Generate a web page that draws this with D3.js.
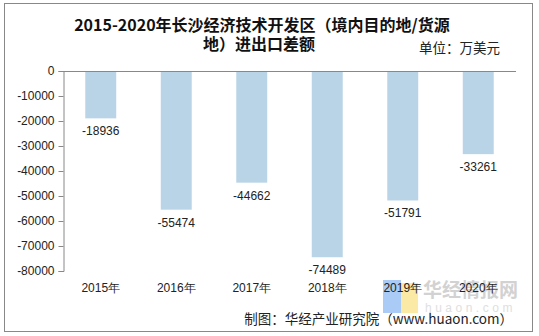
<!DOCTYPE html>
<html>
<head>
<meta charset="utf-8">
<script src="https://cdn.jsdelivr.net/npm/d3@7"></script>
<style>
body { margin: 0; background: #fff; }
svg { display: block; font-family: "Liberation Sans", Arial, sans-serif; }
</style>
</head>
<body>
<svg id="chart" width="539" height="336"></svg>
<script>
// data
var years = ["2015年", "2016年", "2017年", "2018年", "2019年", "2020年"]
var values = [-18936, -55474, -44662, -74489, -51791, -33261]
var yTicks = [0, -10000, -20000, -30000, -40000, -50000, -60000, -70000, -80000]

var svg = d3.select("#chart")

// outer frame
svg.append("rect")
    .attr("x", 4.5).attr("y", 3.5)
    .attr("width", 528).attr("height", 328)
    .attr("fill", "none")
    .attr("stroke", "#888")

var x = d3.scaleBand()
    .domain(years)
    .range([63, 516])
    .paddingInner(0.59)
    .paddingOuter(0.295)

var y = d3.scaleLinear()
    .domain([-80000, 0])
    .range([271, 71])

// bars
svg.selectAll("rect.bar")
    .data(values)
    .enter()
    .append("rect")
    .attr("class", "bar")
    .attr("x", function(d, i) { return x(years[i]) })
    .attr("y", y(0))
    .attr("width", x.bandwidth())
    .attr("height", function(d) { return y(d) - y(0) })
    .attr("fill", "#b9d4e7")

// value labels
svg.selectAll("text.val")
    .data(values)
    .enter()
    .append("text")
    .attr("class", "val")
    .attr("x", function(d, i) { return x(years[i]) + x.bandwidth() / 2 })
    .attr("y", function(d) { return y(d) + 17 })
    .attr("text-anchor", "middle")
    .attr("font-size", 12)
    .attr("fill", "#222")
    .text(function(d) { return d })

// y axis
var yAxis = d3.axisLeft(y)
    .tickValues(yTicks)
    .tickSize(5)
    .tickPadding(4)
    .tickFormat(function(d) { return d })

var gy = svg.append("g")
    .attr("transform", "translate(63.5,0)")
    .call(yAxis)
gy.select(".domain").attr("stroke", "#888")
gy.selectAll(".tick line").attr("stroke", "#888")
gy.selectAll(".tick text").attr("font-size", 12).attr("fill", "#222")
    .attr("font-family", "Liberation Sans, Arial, sans-serif")

// zero line (category axis)
svg.append("line")
    .attr("x1", 63).attr("x2", 516)
    .attr("y1", y(0) + 0.5).attr("y2", y(0) + 0.5)
    .attr("stroke", "#888")

// watermark (drawn under the category labels)
var wm = svg.append("g")
wm.append("rect").attr("x", 383).attr("y", 280).attr("width", 18).attr("height", 33).attr("fill", "#a9cbf5")
wm.append("rect").attr("x", 401).attr("y", 283).attr("width", 17).attr("height", 30).attr("fill", "#fbeaa6")
wm.append("text").attr("x", 423).attr("y", 297)
    .attr("font-family", "Noto Sans CJK SC").attr("font-weight", "bold")
    .attr("font-size", 19).attr("fill", "#d2d2d2").text("华经情报网")
wm.append("text").attr("x", 425).attr("y", 312)
    .attr("font-size", 12).attr("fill", "#e0e0e0").attr("letter-spacing", 3.5).text("huaon.com")

// category labels at bottom
svg.selectAll("text.cat")
    .data(years)
    .enter()
    .append("text")
    .attr("class", "cat")
    .attr("x", function(d) { return x(d) + x.bandwidth() / 2 })
    .attr("y", 292)
    .attr("text-anchor", "middle")
    .attr("font-size", 12)
    .attr("fill", "#222")
    .text(function(d) { return d })

// title
var title = svg.append("g")
    .attr("font-family", "Noto Sans CJK SC")
    .attr("font-weight", "bold")
    .attr("font-size", 16)
    .attr("fill", "#111")
    .attr("text-anchor", "middle")
title.append("text").attr("x", 262).attr("y", 31).text("2015-2020年长沙经济技术开发区（境内目的地/货源")
title.append("text").attr("x", 259).attr("y", 50).text("地）进出口差额")

svg.append("text")
    .attr("x", 500).attr("y", 53)
    .attr("text-anchor", "end")
    .attr("font-family", "Noto Sans CJK SC")
    .attr("font-size", 13.5)
    .attr("fill", "#222")
    .text("单位：万美元")

svg.append("text")
    .attr("x", 513).attr("y", 324)
    .attr("text-anchor", "end")
    .attr("font-family", "Noto Sans CJK SC")
    .attr("font-size", 13.5)
    .attr("fill", "#222")
    .text("制图：华经产业研究院（www.huaon.com）")
</script>
</body>
</html>
